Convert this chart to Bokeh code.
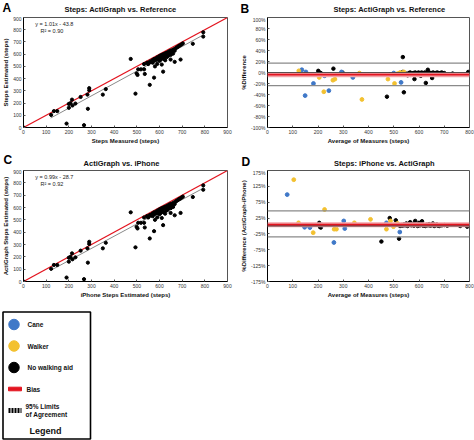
from bokeh.plotting import figure
from bokeh.layouts import column, row
from bokeh.models import Range1d, FixedTicker, PrintfTickFormatter, Label, Span
from bokeh.core.properties import value
from bokeh.embed import file_html
from bokeh.resources import INLINE

# ---------------- data ----------------
# Panel A / C: steps measured vs estimated
a_measured = [0, 122, 134, 149, 190, 267, 200, 200, 207, 214, 216, 229, 252, 284, 282, 290, 290, 350, 363, 473,
              494, 499, 503, 506, 518, 532, 535, 532, 550, 557, 576, 616, 667, 693, 649, 747, 793, 793]
a_estimated = [0, 103, 134, 134, 32, 19, 161, 193, 199, 228, 180, 196, 250, 153, 269, 322, 304, 269, 314, 561,
               277, 443, 430, 476, 476, 476, 438, 519, 519, 349, 408, 457, 537, 556, 556, 685, 779, 744]
a_cluster_measured = [545, 552, 558, 563, 568, 572, 576, 580, 584, 588, 591, 594, 597, 600, 603, 606, 609, 612,
                      615, 618, 621, 624, 627, 630, 633, 636, 639, 642, 645, 648, 651, 655, 659, 663, 667, 671,
                      676, 681, 686, 691, 697, 703, 590, 600, 610, 620, 630, 640, 650, 660, 580, 570, 625, 635,
                      645, 615, 605]
a_cluster_estimated = [530, 525, 540, 535, 550, 545, 560, 548, 565, 555, 575, 560, 570, 585, 578, 590, 572, 595,
                       588, 600, 592, 605, 598, 610, 600, 615, 605, 622, 612, 628, 618, 632, 625, 640, 628, 648,
                       655, 660, 668, 672, 680, 688, 520, 545, 515, 560, 575, 590, 595, 605, 500, 530, 550, 580,
                       610, 565, 555]
c_iphone = a_measured + a_cluster_measured
c_actigraph = a_estimated + a_cluster_estimated
a_fit = (1.01, -43.8)
c_fit = (0.99, -28.7)
fit_x_span = [120, 795]

# Panel B: ActiGraph vs Reference, Bland-Altman (% difference)
b_cane_x = [136, 152, 149, 182, 226, 243, 293, 338, 500, 529, 566]
b_cane_y = [5, 1, -42, -20, -6, -33, 1, -9, -1, -18, -4]
b_walker_x = [124, 205, 223, 259, 267, 364, 374, 477, 503, 515, 525, 535, 540]
b_walker_y = [3, -9, -35, -14, -12, -1, -49, -12, -20, -2, 0, -3, 1]
b_none_x = [201, 205, 210, 213, 261, 297, 473, 484, 536, 536, 540, 548, 555, 560, 565, 570, 575, 578, 582, 585,
            588, 592, 595, 598, 600, 604, 607, 610, 613, 616, 620, 623, 627, 630, 633, 635, 638, 641, 645, 648,
            652, 656, 660, 664, 668, 672, 676, 680, 685, 690, 700, 733, 781, 795]
b_none_y = [3, 0, -1, -2, 7, 0, -44, -4, 28, 1, -36, -2, -5, -1, 0, -3, -2, -1, -12, 0,
            -2, -1, -3, 0, -1, -2, -6, 0, -1, -3, -1, 0, -19, -2, 1, 5, -1, 0, -2, -1,
            -10, 0, -2, -1, -3, 0, -1, -2, -1, 0, -1, -2, -4, 1]
b_bias, b_upper, b_lower = -4, 17, -24

# Panel D: iPhone vs ActiGraph, Bland-Altman (% difference)
d_cane_x = [78, 147, 155, 168, 218, 263, 302, 306, 471, 524, 545]
d_cane_y = [99, -4, 2, -5, 3, -52, 16, -8, 10, -19, 3]
d_walker_x = [104, 123, 181, 226, 264, 273, 344, 408, 471, 487, 499, 508, 515]
d_walker_y = [146, 10, -21, 52, -10, -10, 10, 21, -10, 16, -2, 5, 8]
d_none_x = [205, 208, 211, 267, 451, 466, 484, 508, 521, 525, 530, 535, 540, 545, 550, 555, 560, 565, 570, 575,
            580, 585, 590, 595, 600, 604, 608, 612, 616, 620, 625, 630, 635, 640, 645, 650, 655, 660, 665, 670,
            675, 680, 690, 700, 712, 763, 791]
d_none_y = [10, -3, -5, 2, -49, 5, 25, 18, -40, 0, 3, 1, 5, 2, 8, 0, 4, 12, 2, 6,
            1, 16, 3, 0, 10, 2, 5, 15, 1, 3, 0, 4, 2, 6, 1, 3, 8, 0, 2, 5,
            1, 0, 2, 3, 1, 0, -2]
d_bias, d_upper, d_lower = 4, 48, -34

scatter_ticks = list(range(0, 901, 100))
avg_ticks = list(range(0, 801, 100))
b_ticks = list(range(-100, 101, 20))
d_ticks = [-175, -125, -75, -25, 25, 75, 125, 175]

panel_letters = ["A", "B", "C", "D"]
panel_titles = ["Steps: ActiGraph vs. Reference", "Steps: ActiGraph vs. Reference",
                "ActiGraph vs. iPhone", "Steps: iPhone vs. ActiGraph"]
legend_labels = ["Cane", "Walker", "No walking aid", "Bias", "95% Limits\nof Agreement"]

# ---------------- style ----------------
FONT = "Liberation Sans"
BLUE = "#3f78c8"
YELLOW = "#f3c130"
BLACK = "#000000"
RED = "#e3141f"
PINK = "#f2a3a8"
GRAY = "#8a8a8a"


def header(h, items):
    """Strip above a row of panels holding the panel letters and titles."""
    p = figure(width=474, height=h, x_range=Range1d(0, 474), y_range=Range1d(h, 0),
               output_backend="svg", toolbar_location=None, title=None,
               min_border_left=0, min_border_right=0, min_border_top=0, min_border_bottom=0)
    p.axis.visible = False
    p.grid.visible = False
    p.outline_line_color = None
    p.border_fill_color = "white"
    for (lt, lx, ly, tt, tx, ty) in items:
        p.add_layout(Label(x=lx, y=ly, text=lt, text_font=FONT, text_font_size="12px",
                           text_font_style="bold", text_color="black", text_baseline="top"))
        p.add_layout(Label(x=tx, y=ty, text=tt, text_font=FONT, text_font_size="7.5px",
                           text_font_style="bold", text_color="#111111", text_align="center",
                           text_baseline="alphabetic"))
    return p


def base_fig(w, h, xr, yr, left, right, bottom, xlabel, ylabel):
    p = figure(width=w, height=h, x_range=Range1d(*xr), y_range=Range1d(*yr),
               output_backend="svg", toolbar_location=None, title=None,
               min_border_left=left, min_border_right=right,
               min_border_top=1, min_border_bottom=bottom)
    p.grid.visible = False
    p.outline_line_color = "#555555"
    p.outline_line_width = 1
    p.background_fill_color = "white"
    p.border_fill_color = "white"
    for ax in (p.xaxis[0], p.yaxis[0]):
        ax.major_label_text_font = FONT
        ax.major_label_text_font_size = "5px"
        ax.major_label_text_color = "#333333"
        ax.axis_label_text_font = FONT
        ax.axis_label_text_font_size = "6px"
        ax.axis_label_text_font_style = "bold"
        ax.axis_label_text_color = "#111111"
        ax.major_tick_out = 0
        ax.major_tick_in = 2
        ax.minor_tick_out = 0
        ax.minor_tick_in = 0
        ax.major_label_standoff = 2
        ax.axis_label_standoff = 1
        ax.axis_line_color = "black"
        ax.major_tick_line_color = "#555555"
    p.xaxis[0].axis_label = xlabel
    p.yaxis[0].axis_label = ylabel
    return p


def scatter_panel(xs, ys, fit, xlabel, ylabel, eq, r2, h, bottom):
    p = base_fig(237, h, (0, 900), (0, 900), 21, 10, bottom, xlabel, ylabel)
    p.xaxis[0].ticker = FixedTicker(ticks=scatter_ticks)
    p.yaxis[0].ticker = FixedTicker(ticks=scatter_ticks)
    p.line([0, 900], [0, 900], line_color=RED, line_width=1.2)
    fx = fit_x_span
    p.line(fx, [fit[0] * v + fit[1] for v in fx], line_color=GRAY, line_width=1)
    p.scatter(xs, ys, size=3.2, color="black")
    p.add_layout(Label(x=52, y=845, text=eq, text_font=FONT, text_font_size="5.5px",
                       text_color="#222222", text_baseline="middle"))
    p.add_layout(Label(x=75, y=790, text=r2, text_font=FONT, text_font_size="5.5px",
                       text_color="#222222", text_baseline="middle"))
    return p


def ba_panel(cx, cy, wx, wy, nx, ny, bias, up, lo, yr, ticks, ylabel, h, bottom):
    p = base_fig(237, h, (0, 800), yr, 30, 5, bottom, "Average of Measures (steps)", ylabel)
    p.xaxis[0].ticker = FixedTicker(ticks=avg_ticks)
    p.yaxis[0].ticker = FixedTicker(ticks=ticks)
    p.yaxis[0].formatter = PrintfTickFormatter(format="%d%%")
    p.add_layout(Span(location=up, dimension="width", line_color=GRAY, line_width=1.2))
    p.add_layout(Span(location=lo, dimension="width", line_color=GRAY, line_width=1.2))
    p.add_layout(Span(location=bias, dimension="width", line_color=PINK, line_width=5))
    p.add_layout(Span(location=bias, dimension="width", line_color=RED, line_width=1.8))
    p.add_layout(Span(location=0, dimension="width", line_color="#333333", line_width=0.8))
    p.scatter(nx, ny, size=3.5, color=BLACK)
    p.scatter(cx, cy, size=3.8, color=BLUE)
    p.scatter(wx, wy, size=3.8, color=YELLOW)
    return p


h1 = header(16, [(panel_letters[0], 2, 0, panel_titles[0], 120, 8.5),
                 (panel_letters[1], 240, 1, panel_titles[1], 389, 8.5)])
pA = scatter_panel(c_iphone, c_actigraph, a_fit, "Steps Measured (steps)", "Steps Estimated (steps)",
                   "y = 1.01x - 43.8", "R\u00b2 = 0.90", 134, 22)
pB = ba_panel(b_cane_x, b_cane_y, b_walker_x, b_walker_y, b_none_x, b_none_y,
              b_bias, b_upper, b_lower, (-100, 100), b_ticks, "%Difference", 134, 23)
h2 = header(19, [(panel_letters[2], 3, 2, panel_titles[2], 121, 13),
                 (panel_letters[3], 241, 4, panel_titles[3], 384, 13)])
pC = scatter_panel(c_iphone, c_actigraph, c_fit, "iPhone Steps Estimated (steps)",
                   "ActiGraph Steps Estimated (steps)", "y = 0.99x - 28.7", "R\u00b2 = 0.92", 131, 17)
pD = ba_panel(d_cane_x, d_cane_y, d_walker_x, d_walker_y, d_none_x, d_none_y,
              d_bias, d_upper, d_lower, (-175, 175), d_ticks, "%Difference (ActiGraph-iPhone)", 131, 17)

# ---------------- legend panel ----------------
pL = figure(width=474, height=140, x_range=Range1d(0, 474), y_range=Range1d(140, 0),
            output_backend="svg", toolbar_location=None, title=None,
            min_border_left=0, min_border_right=0, min_border_top=0, min_border_bottom=0)
pL.axis.visible = False
pL.grid.visible = False
pL.outline_line_color = None
pL.border_fill_color = "white"
pL.quad(left=[2.5], right=[90], top=[11.5], bottom=[138.5], fill_color="white",
        line_color="black", line_width=1.6)
item_y = [24 + 21.5 * i for i in range(len(legend_labels))]
pL.scatter([13.5, 13.5, 13.5], item_y[:3], size=10.5, color=[BLUE, YELLOW, BLACK])
pL.quad(left=[8], right=[21], top=[item_y[3] - 1.8], bottom=[item_y[3] + 1.8], color=RED)
pL.line([8, 21], [item_y[4], item_y[4]], line_color="black", line_width=5, line_dash="2 1")
pL.text(x=[27, 27, 27, 26], y=item_y[:4], text=legend_labels[:4],
        text_font=value(FONT), text_font_size="6.5px", text_font_style="bold",
        text_baseline="middle", text_color="#111111")
pL.text(x=[25], y=[item_y[4]], text=[legend_labels[4]],
        text_font=value(FONT), text_font_size="6.5px", text_font_style="bold",
        text_baseline="middle", text_color="#111111", text_line_height=1.1)
pL.text(x=[45], y=[130], text=["Legend"], text_font=value(FONT), text_font_size="9px",
        text_font_style="bold", text_align="center", text_baseline="middle", text_color="#111111")

layout = column(h1, row(pA, pB), h2, row(pC, pD), pL)
open("out.html", "w").write(file_html(layout, INLINE))
